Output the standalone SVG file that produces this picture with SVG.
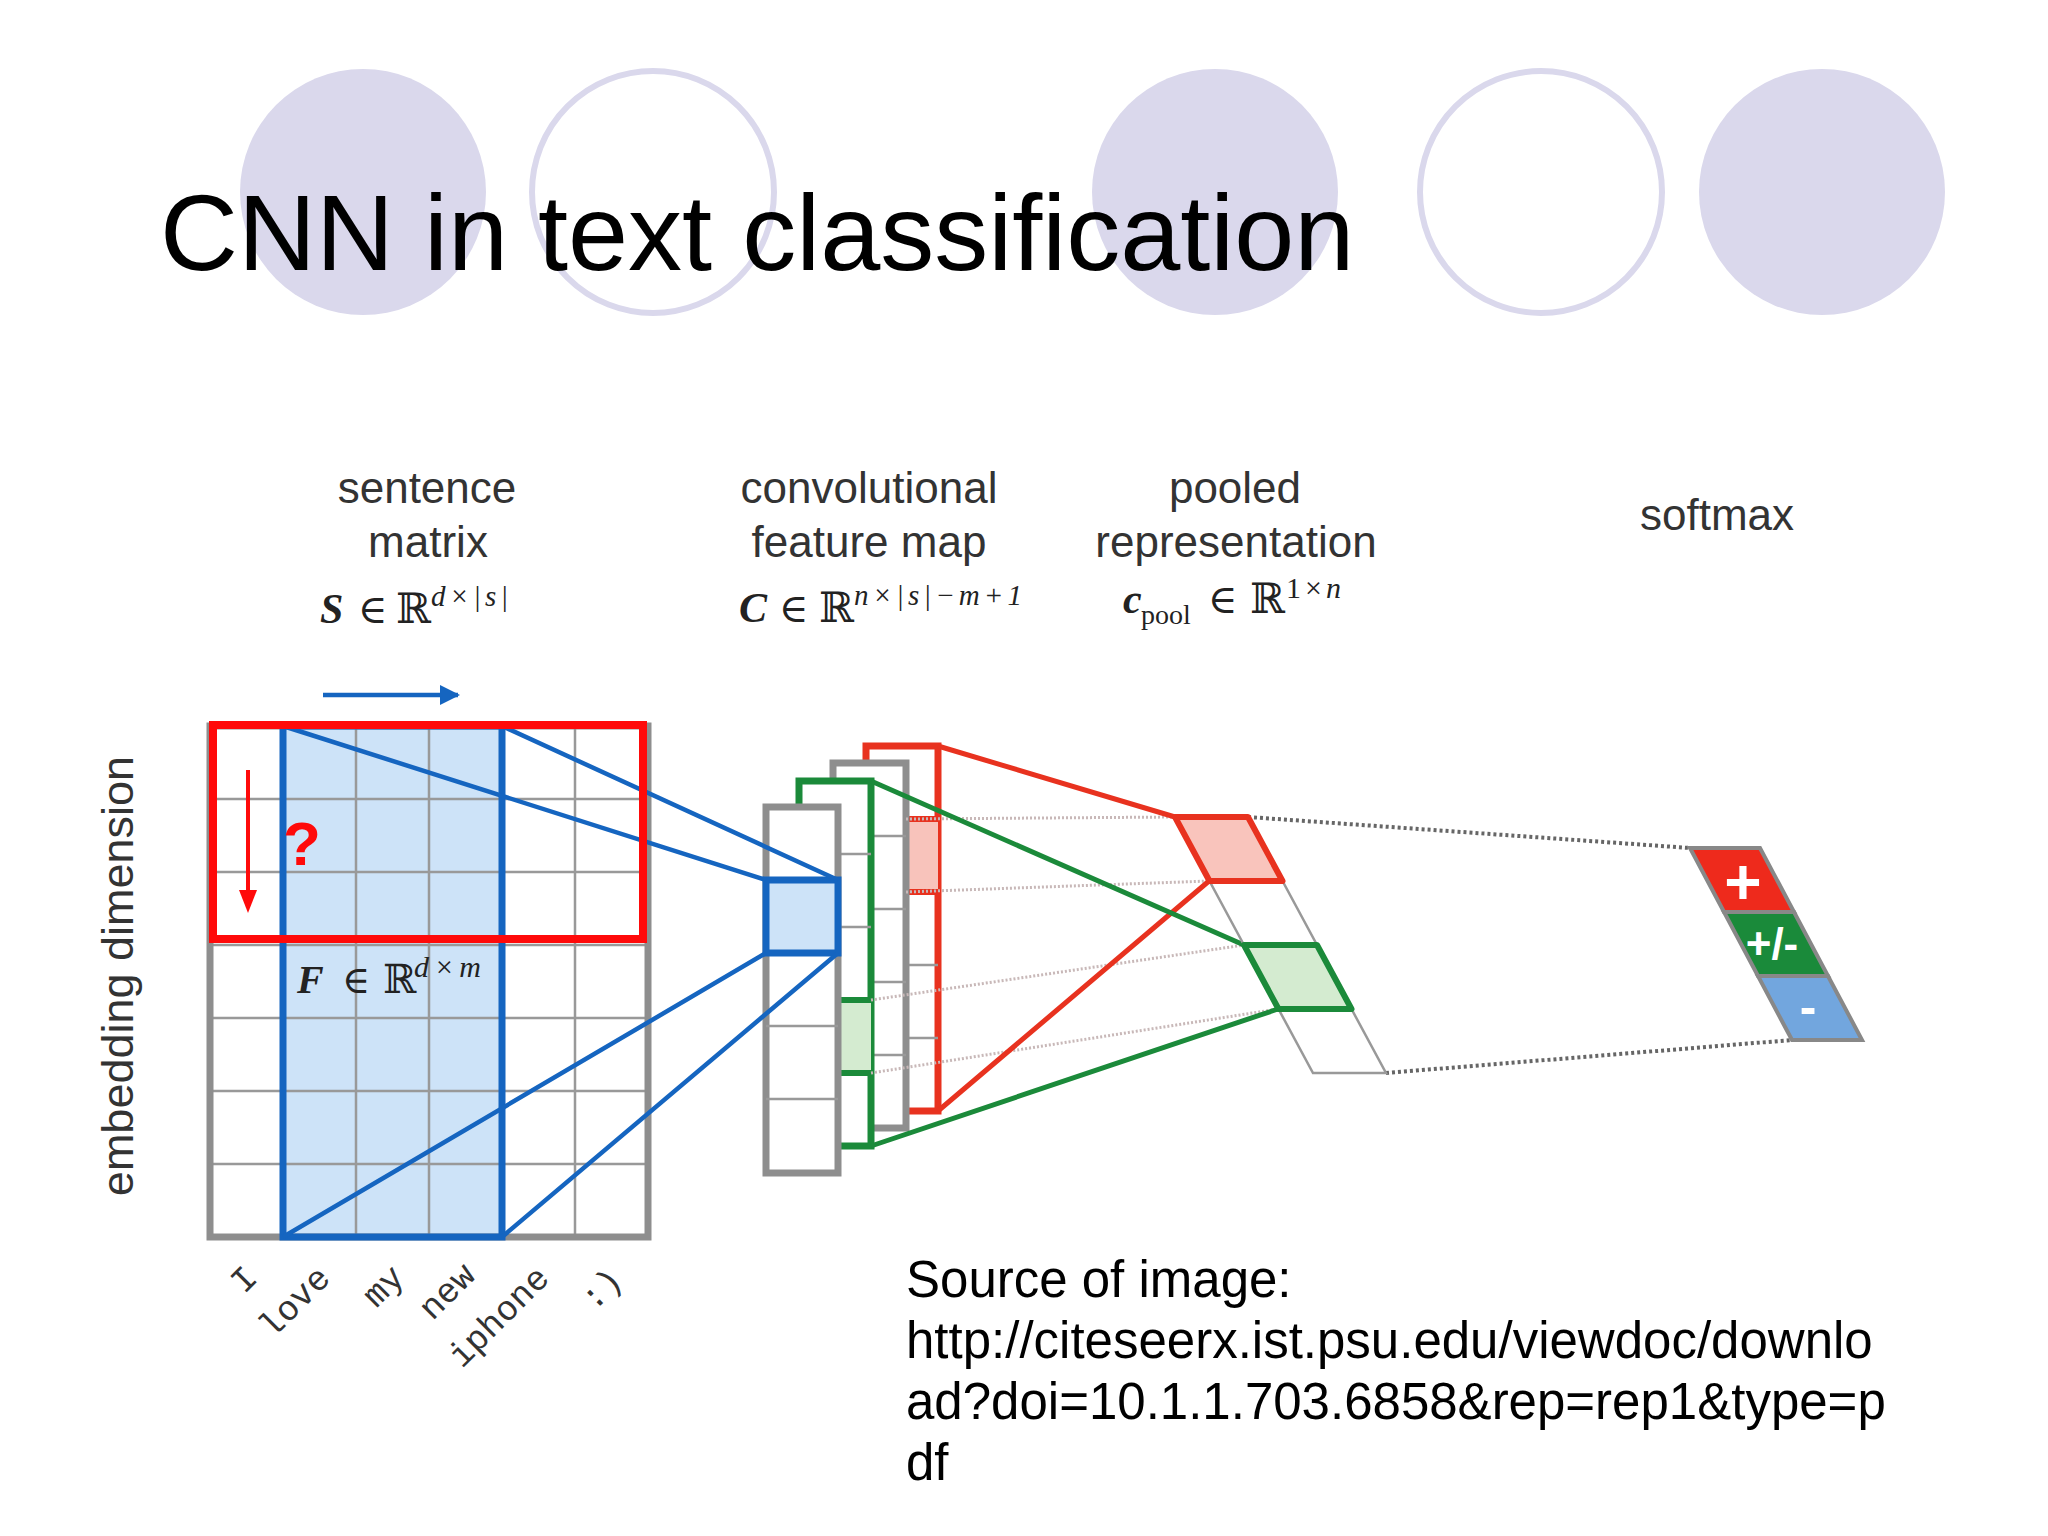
<svg xmlns="http://www.w3.org/2000/svg" width="2048" height="1536" viewBox="0 0 2048 1536">
<style>
.lbl{font-family:"Liberation Sans",Arial,sans-serif;font-size:44px;fill:#333;text-anchor:middle}
.math{font-family:"Liberation Serif","DejaVu Serif",serif;fill:#222}
.bb{font-family:"DejaVu Serif",serif}
.word{font-family:"Liberation Mono","Courier New",monospace;font-size:35px;fill:#333;text-anchor:end}
.grid{stroke:#999;stroke-width:2.5;fill:none}
.gout{fill:none;stroke:#8e8e8e;stroke-width:7}
.gcol{fill:#fff;stroke:#8e8e8e;stroke-width:7}
.blue{stroke:#1565c0;stroke-width:4.5;fill:none}
.redl{stroke:#e8321f;stroke-width:5;fill:none}
.greenl{stroke:#1b8a3a;stroke-width:5;fill:none}
.faint{stroke:#c8b8b8;stroke-width:3;stroke-dasharray:2 2;fill:none}
.dark{stroke:#666;stroke-width:4;stroke-dasharray:3 3;fill:none}
.sym{font-family:"Liberation Sans",Arial,sans-serif;font-weight:bold;fill:#fff;text-anchor:middle}
.src{font-family:"Liberation Sans",Arial,sans-serif;font-size:51px;fill:#000}
</style>
<defs>
<marker id="ab" viewBox="0 0 10 10" refX="9" refY="5" markerWidth="4.5" markerHeight="4.5" orient="auto"><path d="M0,0 L10,5 L0,10 z" fill="#1565c0"/></marker>
</defs>
<rect width="2048" height="1536" fill="#fff"/>
<g id="decor">
<circle cx="363" cy="192" r="123" fill="#dad8ec"/>
<circle cx="653" cy="192" r="121" fill="#fff" stroke="#dad8ec" stroke-width="6"/>
<circle cx="1215" cy="192" r="123" fill="#dad8ec"/>
<circle cx="1541" cy="192" r="121" fill="#fff" stroke="#dad8ec" stroke-width="6"/>
<circle cx="1822" cy="192" r="123" fill="#dad8ec"/>
</g>
<text id="title" x="160" y="270" font-family="Liberation Sans,Arial,sans-serif" font-size="108" fill="#000">CNN in text classification</text>

<g id="labels">
<text class="lbl" x="427" y="503">sentence</text>
<text class="lbl" x="428" y="557">matrix</text>
<text class="lbl" x="869" y="503">convolutional</text>
<text class="lbl" x="869" y="557">feature map</text>
<text class="lbl" x="1235" y="503">pooled</text>
<text class="lbl" x="1236" y="557">representation</text>
<text class="lbl" x="1717" y="530">softmax</text>
<text class="math" y="623" font-size="42"><tspan x="320" font-weight="bold" font-style="italic">S</tspan><tspan x="358" class="bb" font-size="40">∈</tspan><tspan x="396" class="bb">ℝ</tspan><tspan x="431" y="606" font-size="29" font-style="italic" letter-spacing="4">d×|s|</tspan></text>
<text class="math" y="622" font-size="42"><tspan x="739" font-weight="bold" font-style="italic">C</tspan><tspan x="779" class="bb" font-size="40">∈</tspan><tspan x="819" class="bb">ℝ</tspan><tspan x="854" y="605" font-size="29" font-style="italic" letter-spacing="4">n×|s|−m+1</tspan></text>
<text class="math" y="613" font-size="42"><tspan x="1123" font-weight="bold" font-style="italic">c</tspan><tspan x="1141" y="624" font-size="28">pool</tspan><tspan x="1208" y="613" class="bb" font-size="40">∈</tspan><tspan x="1250" class="bb">ℝ</tspan><tspan x="1286" y="598" font-size="30" letter-spacing="4">1×<tspan font-style="italic">n</tspan></tspan></text>
<text transform="translate(133,976) rotate(-90)" font-family="Liberation Sans,Arial,sans-serif" font-size="45" fill="#333" text-anchor="middle">embedding dimension</text>
</g>

<g id="sentence-matrix">
<rect x="210" y="726" width="438" height="511" fill="#fff"/>
<rect x="283" y="726" width="219" height="511" fill="#cde3f8"/>
<path class="grid" d="M283,726V1237M356,726V1237M429,726V1237M502,726V1237M575,726V1237M210,799H648M210,872H648M210,945H648M210,1018H648M210,1091H648M210,1164H648"/>
<rect class="gout" x="210" y="726" width="438" height="511"/>
<rect x="283" y="726" width="219" height="511" fill="none" stroke="#1565c0" stroke-width="7"/>
<text class="math" y="993" font-size="40"><tspan x="297" font-weight="bold" font-style="italic">F</tspan><tspan x="342" class="bb" font-size="38">∈</tspan><tspan x="383" class="bb">ℝ</tspan><tspan x="414" y="977" font-size="30" font-style="italic" letter-spacing="5">d×m</tspan></text>
</g>

<g id="words">
<text class="word" transform="translate(259,1280) rotate(-45)">I</text>
<text class="word" transform="translate(332,1280) rotate(-45)">love</text>
<text class="word" transform="translate(406,1279) rotate(-45)">my</text>
<text class="word" transform="translate(477,1277) rotate(-45)">new</text>
<text class="word" transform="translate(551,1280) rotate(-45)">iphone</text>
<text class="word" transform="translate(624,1282) rotate(-45)">:)</text>
</g>

<g id="conv-map">
<rect x="866" y="746" width="72" height="365" fill="#fff" stroke="#e8321f" stroke-width="7"/>
<rect x="866" y="819" width="72" height="73" fill="#f8c3bb"/>
<path class="grid" d="M866,965H938M866,1038H938"/>
<path d="M866,819H938M866,892H938" stroke="#e8321f" stroke-width="6"/>
<rect x="833" y="763" width="73" height="365" class="gcol"/>
<path class="grid" d="M833,836H906M833,909H906M833,982H906M833,1055H906"/>
<rect x="799" y="781" width="72" height="365" fill="#fff" stroke="#1b8a3a" stroke-width="7"/>
<rect x="799" y="1000" width="72" height="73" fill="#d4ebd0"/>
<path class="grid" d="M799,854H871M799,927H871"/>
<path d="M799,1000H871M799,1073H871" stroke="#1b8a3a" stroke-width="6"/>
<rect x="766" y="807" width="72" height="366" class="gcol"/>
<path class="grid" d="M766,1026H838M766,1099H838"/>
<rect x="766" y="880" width="72" height="73" fill="#cde3f8" stroke="#1565c0" stroke-width="7"/>
</g>

<g id="connectors">
<path class="blue" d="M283,726L766,880M502,726L838,880M283,1237L766,953M502,1237L838,953"/>
<path class="blue" d="M323,695H458" marker-end="url(#ab)"/>
<path class="faint" d="M906,819L1175,817M906,892L1209,881M871,1000L1244,945M871,1073L1278,1009"/>
<path class="redl" d="M938,746L1175,817M938,1111L1209,881"/>
<path class="greenl" d="M871,781L1244,945M871,1146L1278,1009"/>
<path class="dark" d="M1248,817L1690,848M1386,1073L1792,1040"/>
</g>

<g id="filter-highlight">
<rect x="213" y="725" width="430" height="214" fill="none" stroke="#ff0a0a" stroke-width="8"/>
<path d="M248,770V893" stroke="#ff0a0a" stroke-width="4"/>
<path d="M239,890L248,913L257,890z" fill="#ff0a0a"/>
<text x="283" y="865" font-family="Liberation Sans,Arial,sans-serif" font-weight="bold" font-size="62" fill="#ff0a0a">?</text>
</g>

<g id="pooled">
<path d="M1209.5,881L1282.5,881L1317,945L1244,945z" fill="#fff" stroke="#999" stroke-width="2.5"/>
<path d="M1278.5,1009L1351.5,1009L1386,1073L1313,1073z" fill="#fff" stroke="#999" stroke-width="2.5"/>
<path d="M1175,817L1248,817L1282.5,881L1209.5,881z" fill="#f9c4bc" stroke="#e8321f" stroke-width="6" stroke-linejoin="round"/>
<path d="M1244,945L1317,945L1351.5,1009L1278.5,1009z" fill="#d4ebd0" stroke="#1b8a3a" stroke-width="6" stroke-linejoin="round"/>
</g>

<g id="softmax">
<path d="M1690,848L1760,848L1794,912L1724,912z" fill="#ee2a1c" stroke="#888" stroke-width="4"/>
<path d="M1724,912L1794,912L1828,976L1758,976z" fill="#1a8a3a" stroke="#888" stroke-width="4"/>
<path d="M1758,976L1828,976L1862,1040L1792,1040z" fill="#72a6de" stroke="#888" stroke-width="4"/>
<text class="sym" x="1743" y="904" font-size="64">+</text>
<text class="sym" x="1772" y="959" font-size="44">+/-</text>
<text class="sym" x="1808" y="1024" font-size="50">-</text>
</g>

<g id="source">
<text class="src" x="906" y="1297">Source of image:</text>
<text class="src" x="906" y="1358">http://citeseerx.ist.psu.edu/viewdoc/downlo</text>
<text class="src" x="906" y="1419">ad?doi=10.1.1.703.6858&amp;rep=rep1&amp;type=p</text>
<text class="src" x="906" y="1480">df</text>
</g>
</svg>
